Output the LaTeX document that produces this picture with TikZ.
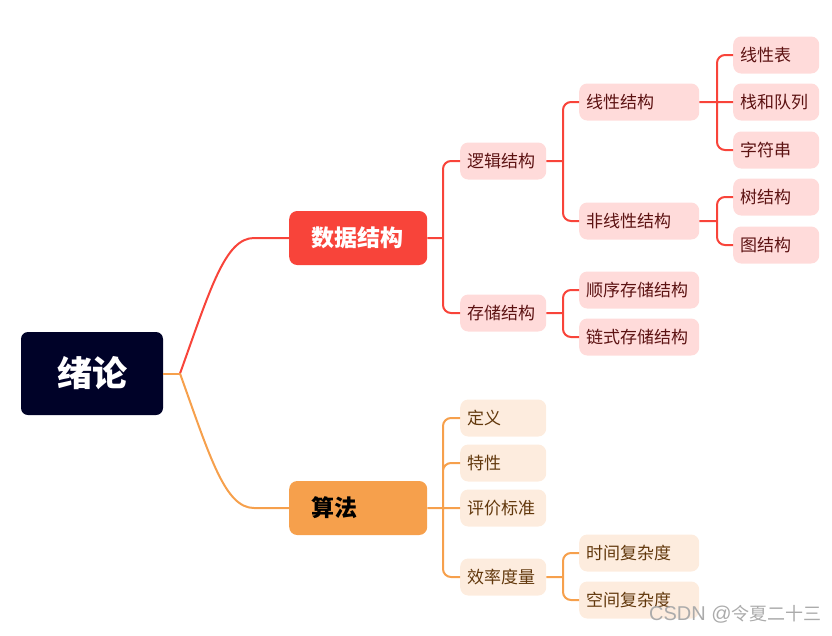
\documentclass[tikz,border=0pt]{standalone}
\usepackage{fontspec}
\setmainfont{Noto Sans CJK SC}
\newfontfamily\marklatin{Liberation Sans}
\definecolor{rootblue}{RGB}{0,2,40}
\definecolor{dsred}{RGB}{248,68,58}
\definecolor{sforange}{RGB}{246,160,76}
\definecolor{dspink}{RGB}{255,219,218}
\definecolor{sfcream}{RGB}{253,236,222}
\definecolor{dstext}{RGB}{92,18,18}
\definecolor{sftext}{RGB}{98,56,12}
\tikzset{
  rootbox/.style={fill=rootblue, text=white, rounded corners=7pt, minimum width=142pt, minimum height=83pt, inner sep=0pt, font=\fontsize{35}{35}\selectfont\bfseries},
  topic/.style={anchor=west, rounded corners=8pt, minimum height=54pt, inner xsep=22pt, inner ysep=0pt, text width=94pt, align=left, font=\fontsize{23}{23}\selectfont\bfseries},
  dsbox/.style={anchor=west, fill=dspink, text=dstext, rounded corners=8pt, minimum height=37pt, inner xsep=7pt, inner ysep=0pt, align=left, font=\fontsize{17}{17}\selectfont},
  sfbox/.style={anchor=west, fill=sfcream, text=sftext, rounded corners=8pt, minimum height=37pt, inner xsep=7pt, inner ysep=0pt, align=left, font=\fontsize{17}{17}\selectfont},
  dsline/.style={draw=dsred, line width=2pt, rounded corners=8pt},
  sfline/.style={draw=sforange, line width=2pt, rounded corners=8pt}
}
\begin{document}
\begin{tikzpicture}[x=1pt, y=-1pt]
  \useasboundingbox (0,0) rectangle (832,635);
  \node[rootbox] (root) at (92,373.5) {绪论};
  \node[topic, fill=dsred, text=white] (ds) at (289,238) {数据结构};
  \node[topic, fill=sforange, text=black] (sf) at (289,508) {算法};

  \node[dsbox, text width=72pt] (ljjg) at (460,161) {逻辑结构};
  \node[dsbox, text width=72pt] (ccjg) at (460,313) {存储结构};
  \node[dsbox, text width=106pt] (xxjg) at (579,102) {线性结构};
  \node[dsbox, text width=106pt] (fxxjg) at (579,221) {非线性结构};
  \node[dsbox, text width=106pt] (sxcc) at (579,290) {顺序存储结构};
  \node[dsbox, text width=106pt] (lscc) at (579,337) {链式存储结构};
  \node[dsbox, text width=72pt] (xxb) at (733,55) {线性表};
  \node[dsbox, text width=72pt] (zdl) at (733,102) {栈和队列};
  \node[dsbox, text width=72pt] (zfc) at (733,150) {字符串};
  \node[dsbox, text width=72pt] (sjg) at (733,197) {树结构};
  \node[dsbox, text width=72pt] (tjg) at (733,245) {图结构};

  \node[sfbox, text width=72pt] (dy) at (460,418) {定义};
  \node[sfbox, text width=72pt] (tx) at (460,463) {特性};
  \node[sfbox, text width=72pt] (pjbz) at (460,508) {评价标准};
  \node[sfbox, text width=72pt] (xldl) at (460,577) {效率度量};
  \node[sfbox, text width=106pt] (sjfzd) at (579,553) {时间复杂度};
  \node[sfbox, text width=106pt] (kjfzd) at (579,600) {空间复杂度};

  \coordinate (rootj) at (180,373.5);
  \coordinate (dsj) at (443,238);
  \coordinate (ljj) at (563,161);
  \coordinate (ccj) at (563,313);
  \coordinate (xxj) at (717,102);
  \coordinate (fxxj) at (717,221);
  \coordinate (sfj) at (443,508);
  \coordinate (xldlj) at (563,577);

  \draw[dsline] (rootj) .. controls (210,290) and (225,238) .. (262,238) -- (ds.west);
  \draw[sfline] (rootj) .. controls (210,457) and (225,508) .. (262,508) -- (sf.west);
  \draw[sfline] (root.east) -- (rootj);

  \draw[dsline] (ds.east) -- (dsj) (dsj) |- (ljjg.west) (dsj) |- (ccjg.west);
  \draw[dsline] (ljjg.east) -- (ljj) (ljj) |- (xxjg.west) (ljj) |- (fxxjg.west);
  \draw[dsline] (ccjg.east) -- (ccj) (ccj) |- (sxcc.west) (ccj) |- (lscc.west);
  \draw[dsline] (xxjg.east) -- (xxj) (xxj) |- (xxb.west) (xxj) -- (zdl.west) (xxj) |- (zfc.west);
  \draw[dsline] (fxxjg.east) -- (fxxj) (fxxj) |- (sjg.west) (fxxj) |- (tjg.west);

  \draw[sfline] (sf.east) -- (sfj) (sfj) |- (dy.west) (sfj) |- (tx.west) (sfj) -- (pjbz.west) (sfj) |- (xldl.west);
  \draw[sfline] (xldl.east) -- (xldlj) (xldlj) |- (sjfzd.west) (xldlj) |- (kjfzd.west);

  \node[anchor=west, text=black!33, inner sep=0pt, font=\fontsize{18}{18}\selectfont] (mark) at (649,614) {{\marklatin\fontsize{20}{20}\selectfont CSDN @}令夏二十三};
\end{tikzpicture}
\end{document}
